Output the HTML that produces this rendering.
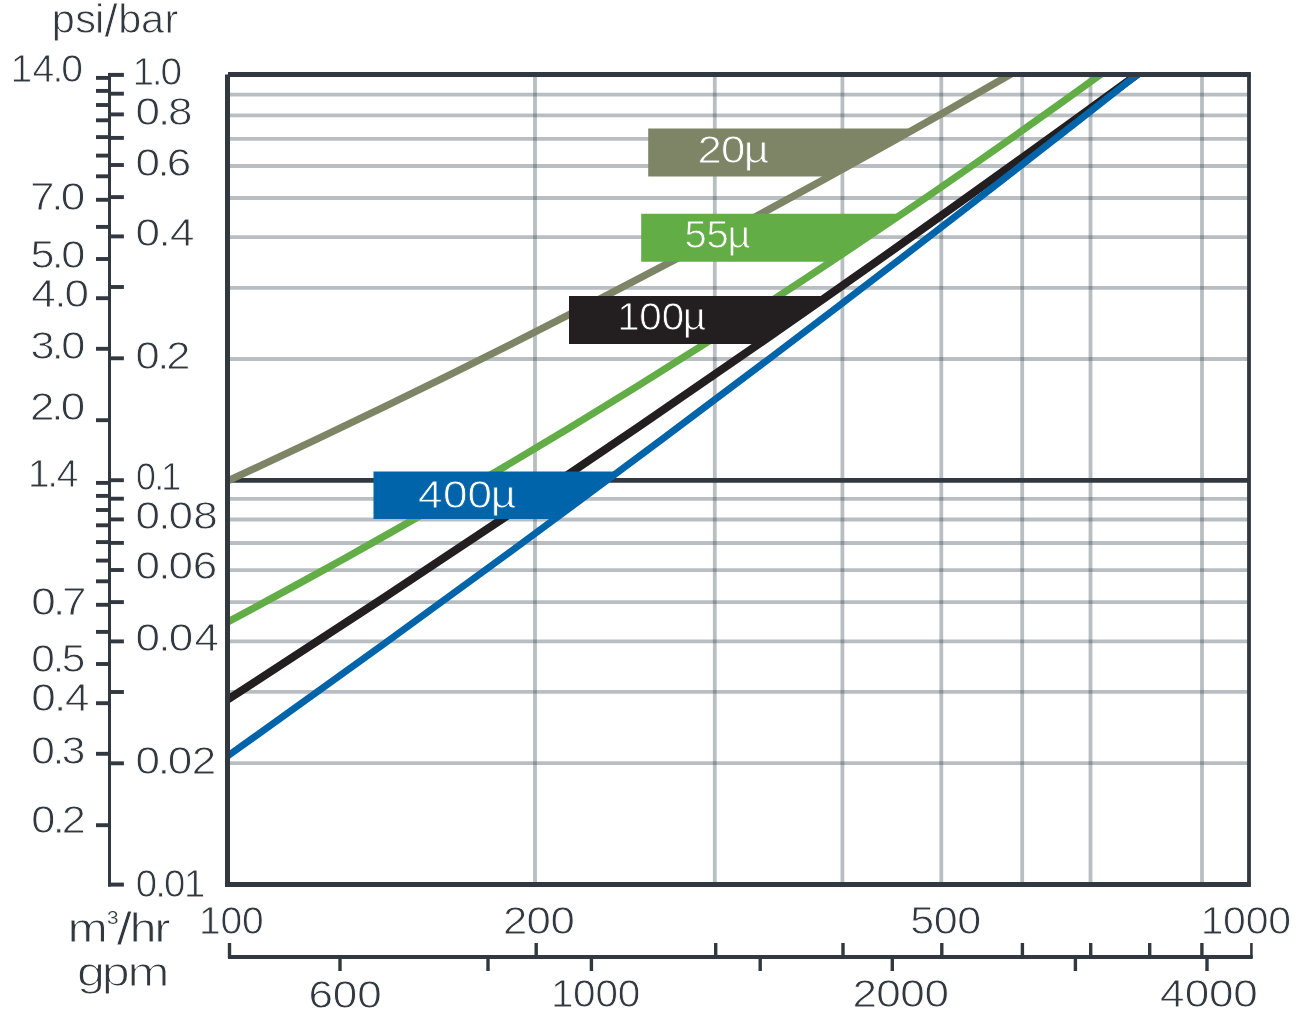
<!DOCTYPE html>
<html lang="en"><head><meta charset="utf-8"><title>Pressure loss chart</title>
<style>html,body{margin:0;padding:0;background:#fff}svg{display:block}text{font-family:"Liberation Sans",sans-serif;fill:#31383f}</style>
</head><body>
<svg width="1304" height="1033" viewBox="0 0 1304 1033">
<rect width="1304" height="1033" fill="#fff"/>
<g stroke="#2e4049" stroke-opacity="0.34" stroke-width="3.8" fill="none">
<line x1="227.5" y1="94.7" x2="1249.0" y2="94.7"/>
<line x1="227.5" y1="115.4" x2="1249.0" y2="115.4"/>
<line x1="227.5" y1="138.9" x2="1249.0" y2="138.9"/>
<line x1="227.5" y1="166.0" x2="1249.0" y2="166.0"/>
<line x1="227.5" y1="198.0" x2="1249.0" y2="198.0"/>
<line x1="227.5" y1="237.2" x2="1249.0" y2="237.2"/>
<line x1="227.5" y1="287.8" x2="1249.0" y2="287.8"/>
<line x1="227.5" y1="359.0" x2="1249.0" y2="359.0"/>
<line x1="227.5" y1="498.8" x2="1249.0" y2="498.8"/>
<line x1="227.5" y1="519.5" x2="1249.0" y2="519.5"/>
<line x1="227.5" y1="543.0" x2="1249.0" y2="543.0"/>
<line x1="227.5" y1="570.1" x2="1249.0" y2="570.1"/>
<line x1="227.5" y1="602.1" x2="1249.0" y2="602.1"/>
<line x1="227.5" y1="641.3" x2="1249.0" y2="641.3"/>
<line x1="227.5" y1="691.9" x2="1249.0" y2="691.9"/>
<line x1="227.5" y1="763.1" x2="1249.0" y2="763.1"/>
<line x1="535.0" y1="74.5" x2="535.0" y2="884.4"/>
<line x1="714.8" y1="74.5" x2="714.8" y2="884.4"/>
<line x1="842.4" y1="74.5" x2="842.4" y2="884.4"/>
<line x1="941.3" y1="74.5" x2="941.3" y2="884.4"/>
<line x1="1022.2" y1="74.5" x2="1022.2" y2="884.4"/>
<line x1="1090.5" y1="74.5" x2="1090.5" y2="884.4"/>
<line x1="1202.0" y1="74.5" x2="1202.0" y2="884.4"/>
</g>
<line x1="227.5" y1="480.4" x2="1249.0" y2="480.4" stroke="#31383f" stroke-width="4.6"/>
<defs><clipPath id="pc"><rect x="227.5" y="74.5" width="1021.5" height="809.9"/></clipPath></defs>
<g clip-path="url(#pc)">
<polygon points="648.2,128.5 915.6,128.5 829.6,176.4 648.2,176.4" fill="#7d8566"/>
<path d="M218.00 485.33 Q619.00 300.92 1020.00 68.91" fill="none" stroke="#7d8566" stroke-width="7.3"/>
<polygon points="641.2,213.8 902.2,213.8 831.0,261.7 641.2,261.7" fill="#62ad45"/>
<path d="M218.00 627.10 Q664.50 391.39 1111.00 66.93" fill="none" stroke="#62ad45" stroke-width="7.2"/>
<polygon points="569.0,296.1 827.5,296.1 759.0,343.9 569.0,343.9" fill="#231f20"/>
<path d="M218.00 705.69 Q682.80 406.85 1147.60 66.78" fill="none" stroke="#231f20" stroke-width="8.0"/>
<polygon points="373.5,471.5 618.9,471.5 554.8,519.0 373.5,519.0" fill="#0064ab"/>
<path d="M218.00 762.79 Q683.10 432.77 1148.20 65.97" fill="none" stroke="#0064ab" stroke-width="6.9"/>
</g>
<g stroke="#31383f" fill="none" stroke-linecap="butt">
<line x1="228.0" y1="74.4" x2="1250.9" y2="74.4" stroke-width="5"/>
<line x1="225.0" y1="884.4" x2="1250.9" y2="884.4" stroke-width="5"/>
<line x1="227.5" y1="74.5" x2="227.5" y2="884.4" stroke-width="5"/>
<line x1="1249.0" y1="74.5" x2="1249.0" y2="884.4" stroke-width="3.8"/>
</g>
<g stroke="#31383f" fill="none">
<line x1="109.5" y1="72.9" x2="109.5" y2="886.6" stroke-width="3"/>
<line x1="108.2" y1="74.9" x2="123.9" y2="74.9" stroke-width="4.0"/>
<line x1="108.2" y1="93.7" x2="123.9" y2="93.7" stroke-width="3.9"/>
<line x1="108.2" y1="114.4" x2="123.9" y2="114.4" stroke-width="3.9"/>
<line x1="108.2" y1="137.9" x2="123.9" y2="137.9" stroke-width="3.9"/>
<line x1="108.2" y1="165.0" x2="123.9" y2="165.0" stroke-width="3.9"/>
<line x1="108.2" y1="197.1" x2="123.9" y2="197.1" stroke-width="3.9"/>
<line x1="108.2" y1="236.4" x2="123.9" y2="236.4" stroke-width="3.9"/>
<line x1="108.2" y1="287.0" x2="123.9" y2="287.0" stroke-width="3.9"/>
<line x1="108.2" y1="358.3" x2="123.9" y2="358.3" stroke-width="3.9"/>
<line x1="108.2" y1="480.2" x2="123.9" y2="480.2" stroke-width="3.9"/>
<line x1="108.2" y1="498.7" x2="123.9" y2="498.7" stroke-width="3.9"/>
<line x1="108.2" y1="519.4" x2="123.9" y2="519.4" stroke-width="3.9"/>
<line x1="108.2" y1="542.9" x2="123.9" y2="542.9" stroke-width="3.9"/>
<line x1="108.2" y1="570.0" x2="123.9" y2="570.0" stroke-width="3.9"/>
<line x1="108.2" y1="602.1" x2="123.9" y2="602.1" stroke-width="3.9"/>
<line x1="108.2" y1="641.4" x2="123.9" y2="641.4" stroke-width="3.9"/>
<line x1="108.2" y1="692.0" x2="123.9" y2="692.0" stroke-width="3.9"/>
<line x1="108.2" y1="763.3" x2="123.9" y2="763.3" stroke-width="3.9"/>
<line x1="108.2" y1="884.6" x2="123.9" y2="884.6" stroke-width="4.0"/>
<line x1="96.0" y1="77.9" x2="110.8" y2="77.9" stroke-width="3.9"/>
<line x1="96.0" y1="90.9" x2="110.8" y2="90.9" stroke-width="3.9"/>
<line x1="96.0" y1="105.0" x2="110.8" y2="105.0" stroke-width="3.9"/>
<line x1="96.0" y1="120.3" x2="110.8" y2="120.3" stroke-width="3.9"/>
<line x1="96.0" y1="137.1" x2="110.8" y2="137.1" stroke-width="3.9"/>
<line x1="96.0" y1="155.6" x2="110.8" y2="155.6" stroke-width="3.9"/>
<line x1="96.0" y1="176.3" x2="110.8" y2="176.3" stroke-width="3.9"/>
<line x1="96.0" y1="199.8" x2="110.8" y2="199.8" stroke-width="3.9"/>
<line x1="96.0" y1="226.9" x2="110.8" y2="226.9" stroke-width="3.9"/>
<line x1="96.0" y1="259.0" x2="110.8" y2="259.0" stroke-width="3.9"/>
<line x1="96.0" y1="298.2" x2="110.8" y2="298.2" stroke-width="3.9"/>
<line x1="96.0" y1="348.8" x2="110.8" y2="348.8" stroke-width="3.9"/>
<line x1="96.0" y1="420.2" x2="110.8" y2="420.2" stroke-width="3.9"/>
<line x1="96.0" y1="482.9" x2="110.8" y2="482.9" stroke-width="3.9"/>
<line x1="96.0" y1="495.9" x2="110.8" y2="495.9" stroke-width="3.9"/>
<line x1="96.0" y1="510.0" x2="110.8" y2="510.0" stroke-width="3.9"/>
<line x1="96.0" y1="525.3" x2="110.8" y2="525.3" stroke-width="3.9"/>
<line x1="96.0" y1="542.1" x2="110.8" y2="542.1" stroke-width="3.9"/>
<line x1="96.0" y1="560.6" x2="110.8" y2="560.6" stroke-width="3.9"/>
<line x1="96.0" y1="581.3" x2="110.8" y2="581.3" stroke-width="3.9"/>
<line x1="96.0" y1="604.8" x2="110.8" y2="604.8" stroke-width="3.9"/>
<line x1="96.0" y1="631.9" x2="110.8" y2="631.9" stroke-width="3.9"/>
<line x1="96.0" y1="664.0" x2="110.8" y2="664.0" stroke-width="3.9"/>
<line x1="96.0" y1="703.2" x2="110.8" y2="703.2" stroke-width="3.9"/>
<line x1="96.0" y1="753.8" x2="110.8" y2="753.8" stroke-width="3.9"/>
<line x1="96.0" y1="825.2" x2="110.8" y2="825.2" stroke-width="3.9"/>
</g>
<g stroke="#31383f" fill="none">
<line x1="228.0" y1="956.9" x2="1252.7" y2="956.9" stroke-width="4"/>
<line x1="229.5" y1="943.0" x2="229.5" y2="957.9" stroke-width="3.4"/>
<line x1="536.2" y1="943.0" x2="536.2" y2="957.9" stroke-width="3.4"/>
<line x1="715.7" y1="943.0" x2="715.7" y2="957.9" stroke-width="3.4"/>
<line x1="843.0" y1="943.0" x2="843.0" y2="957.9" stroke-width="3.4"/>
<line x1="941.8" y1="943.0" x2="941.8" y2="957.9" stroke-width="3.4"/>
<line x1="1022.4" y1="943.0" x2="1022.4" y2="957.9" stroke-width="3.4"/>
<line x1="1090.7" y1="943.0" x2="1090.7" y2="957.9" stroke-width="3.4"/>
<line x1="1149.7" y1="943.0" x2="1149.7" y2="957.9" stroke-width="3.4"/>
<line x1="1201.9" y1="943.0" x2="1201.9" y2="957.9" stroke-width="3.4"/>
<line x1="1251.4" y1="943.0" x2="1251.4" y2="957.9" stroke-width="2.6"/>
<line x1="340.0" y1="955.9" x2="340.0" y2="971.0" stroke-width="3.4"/>
<line x1="488.0" y1="955.9" x2="488.0" y2="971.0" stroke-width="3.4"/>
<line x1="591.4" y1="955.9" x2="591.4" y2="971.0" stroke-width="3.4"/>
<line x1="760.2" y1="955.9" x2="760.2" y2="971.0" stroke-width="3.4"/>
<line x1="892.3" y1="955.9" x2="892.3" y2="971.0" stroke-width="3.4"/>
<line x1="1075.4" y1="955.9" x2="1075.4" y2="971.0" stroke-width="3.4"/>
<line x1="1207.0" y1="955.9" x2="1207.0" y2="971.0" stroke-width="3.4"/>
</g>
<text transform="translate(0 163.3) scale(1.143 1.000)" y="0" font-size="38.3" stroke="#7d8566" stroke-width="0.80" style="fill:#fff" x="610.21 630.77 650.63">20µ</text>
<text transform="translate(0 247.9) scale(1.045 1.000)" y="0" font-size="38.3" stroke="#62ad45" stroke-width="0.80" style="fill:#fff" x="655.05 676.14 696.15">55µ</text>
<text transform="translate(0 330.0) scale(1.053 1.000)" y="0" font-size="38.3" stroke="#231f20" stroke-width="0.80" style="fill:#fff" x="586.29 607.14 628.35 648.45">100µ</text>
<text transform="translate(0 508.0) scale(1.150 1.000)" y="0" font-size="38.3" stroke="#0064ab" stroke-width="0.80" style="fill:#fff" x="363.38 385.15 406.54 426.81">400µ</text>
<text transform="translate(0 82.0) scale(1.021 1.000)" y="0" font-size="38.3" stroke="#fff" stroke-width="0.80" x="10.20 31.75 51.43 60.08">14.0</text>
<text transform="translate(0 210.4) scale(1.150 1.000)" y="0" font-size="38.3" stroke="#fff" stroke-width="0.80" x="26.04 44.58 52.89">7.0</text>
<text transform="translate(0 267.9) scale(1.129 1.000)" y="0" font-size="38.3" stroke="#fff" stroke-width="0.80" x="27.00 45.91 54.27">5.0</text>
<text transform="translate(0 306.5) scale(1.150 1.000)" y="0" font-size="38.3" stroke="#fff" stroke-width="0.80" x="27.12 47.18 56.20">4.0</text>
<text transform="translate(0 359.1) scale(1.129 1.000)" y="0" font-size="38.3" stroke="#fff" stroke-width="0.80" x="27.07 45.91 54.27">3.0</text>
<text transform="translate(0 420.4) scale(1.149 1.000)" y="0" font-size="38.3" stroke="#fff" stroke-width="0.80" x="26.10 44.64 52.96">2.0</text>
<text transform="translate(0 487.1) scale(1.018 1.000)" y="0" font-size="38.3" stroke="#fff" stroke-width="0.80" x="27.53 46.48 55.75">1.4</text>
<text transform="translate(0 615.3) scale(1.150 1.000)" y="0" font-size="38.3" stroke="#fff" stroke-width="0.80" x="27.20 46.17 54.02">0.7</text>
<text transform="translate(0 672.0) scale(1.109 1.000)" y="0" font-size="38.3" stroke="#fff" stroke-width="0.80" x="28.27 47.34 55.72">0.5</text>
<text transform="translate(0 711.0) scale(1.150 1.000)" y="0" font-size="38.3" stroke="#fff" stroke-width="0.80" x="27.20 46.88 56.52">0.4</text>
<text transform="translate(0 764.0) scale(1.109 1.000)" y="0" font-size="38.3" stroke="#fff" stroke-width="0.80" x="28.27 47.34 55.79">0.3</text>
<text transform="translate(0 833.3) scale(1.129 1.000)" y="0" font-size="38.3" stroke="#fff" stroke-width="0.80" x="27.74 46.76 54.70">0.2</text>
<text transform="translate(0 85.2) scale(1.013 1.000)" y="0" font-size="38.3" stroke="#fff" stroke-width="0.80" x="130.83 149.79 158.46">1.0</text>
<text transform="translate(0 124.8) scale(1.150 1.000)" y="0" font-size="38.3" stroke="#fff" stroke-width="0.80" x="117.90 137.46 146.19">0.8</text>
<text transform="translate(0 175.7) scale(1.150 1.000)" y="0" font-size="38.3" stroke="#fff" stroke-width="0.80" x="117.90 137.04 145.08">0.6</text>
<text transform="translate(0 246.4) scale(1.150 1.000)" y="0" font-size="38.3" stroke="#fff" stroke-width="0.80" x="117.90 137.88 147.82">0.4</text>
<text transform="translate(0 368.7) scale(1.136 1.000)" y="0" font-size="38.3" stroke="#fff" stroke-width="0.80" x="119.34 138.34 146.26">0.2</text>
<text transform="translate(0 490.4) scale(0.933 1.000)" y="0" font-size="38.3" stroke="#fff" stroke-width="0.80" x="145.74 165.33 172.85">0.1</text>
<text transform="translate(0 528.9) scale(1.150 1.000)" y="0" font-size="38.3" stroke="#fff" stroke-width="0.80" x="117.90 137.57 146.59 168.10">0.08</text>
<text transform="translate(0 578.8) scale(1.150 1.000)" y="0" font-size="38.3" stroke="#fff" stroke-width="0.80" x="117.90 137.53 146.50 167.69">0.06</text>
<text transform="translate(0 651.3) scale(1.150 1.000)" y="0" font-size="38.3" stroke="#fff" stroke-width="0.80" x="117.90 137.62 146.69 169.04">0.04</text>
<text transform="translate(0 774.1) scale(1.150 1.000)" y="0" font-size="38.3" stroke="#fff" stroke-width="0.80" x="117.90 137.23 145.90 166.80">0.02</text>
<text transform="translate(0 896.5) scale(1.001 1.000)" y="0" font-size="38.3" stroke="#fff" stroke-width="0.80" x="135.73 155.10 163.81 183.76">0.01</text>
<text transform="translate(0 33.3) scale(1.021 1.000)" y="0" font-size="40.6" stroke="#fff" stroke-width="0.80"><tspan x="50.76 73.69 92.98">psi</tspan><tspan x="102.45" dy="3.2" font-size="46">/</tspan><tspan x="115.79 138.12 161.19" dy="-3.2">bar</tspan></text>
<text transform="translate(0 942.2) scale(1.180 1)" y="0" font-size="40.6" stroke="#fff" stroke-width="0.8"><tspan x="57.47">m</tspan><tspan x="90.69" dy="-18" font-size="17.6" stroke-width="0.2">3</tspan><tspan x="98.98" dy="20.9" font-size="46">/</tspan><tspan x="110.07 130.97" dy="-2.9">hr</tspan></text>
<text transform="translate(0 985.7) scale(1.241 1.000)" y="0" font-size="40.6" stroke="#fff" stroke-width="1.10" x="61.97 81.93 102.73">gpm</text>
<text transform="translate(0 933.9) scale(1.018 1.000)" y="0" font-size="38.3" stroke="#fff" stroke-width="0.80" x="195.56 216.51 237.83">100</text>
<text transform="translate(0 933.9) scale(1.144 1.000)" y="0" font-size="38.3" stroke="#fff" stroke-width="0.80" x="439.62 460.17 481.16">200</text>
<text transform="translate(0 933.9) scale(1.124 1.000)" y="0" font-size="38.3" stroke="#fff" stroke-width="0.80" x="809.80 830.72 851.76">500</text>
<text transform="translate(0 934.2) scale(1.071 1.000)" y="0" font-size="38.3" stroke="#fff" stroke-width="0.80" x="1121.12 1141.91 1163.08 1184.25">1000</text>
<text transform="translate(0 1007.7) scale(1.150 1.000)" y="0" font-size="38.3" stroke="#fff" stroke-width="0.80" x="268.32 289.38 310.63">600</text>
<text transform="translate(0 1007.4) scale(1.058 1.000)" y="0" font-size="38.3" stroke="#fff" stroke-width="0.80" x="520.72 541.55 562.75 583.96">1000</text>
<text transform="translate(0 1007.4) scale(1.150 1.000)" y="0" font-size="38.3" stroke="#fff" stroke-width="0.80" x="741.29 761.86 782.85 803.85">2000</text>
<text transform="translate(0 1007.4) scale(1.150 1.000)" y="0" font-size="38.3" stroke="#fff" stroke-width="0.80" x="1008.77 1030.25 1051.35 1072.46">4000</text>
</svg></body></html>
